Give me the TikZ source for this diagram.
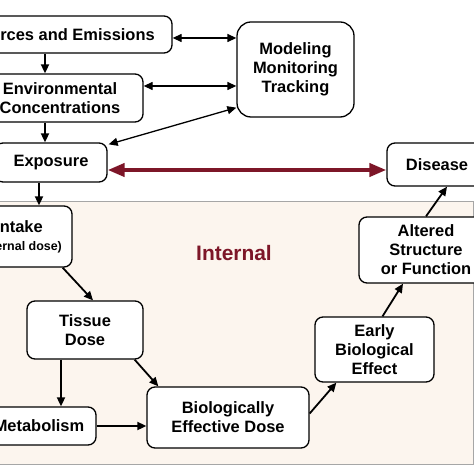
\documentclass[tikz,border=0pt]{standalone}
\usepackage{fontspec}
\setmainfont{Liberation Sans}
\usetikzlibrary{arrows.meta}
\definecolor{wine}{RGB}{125,22,40}
\definecolor{shell}{RGB}{252,245,238}
\begin{document}
\begin{tikzpicture}[x=1bp,y=-1bp,
                    box/.style={draw,fill=white,rounded corners=8bp,line width=1.3bp,align=center,inner sep=0pt,
                        font=\fontsize{16.5}{19}\selectfont\bfseries},
                    arr/.style={-{Triangle[length=9bp,width=8bp]},line width=1.8bp},
                    dbl/.style={{Triangle[length=9bp,width=8bp]}-{Triangle[length=9bp,width=8bp]},line width=1.3bp}]
                    \useasboundingbox (0,0) rectangle (474,474);
                    \clip (0,0) rectangle (474,474);
                    \fill[white] (0,0) rectangle (474,474);
                    \draw[fill=shell,draw=gray!70,line width=1bp] (-10,202) rectangle (473,464);
                    \node[text=wine,font=\fontsize{21}{24}\selectfont\bfseries] (internal) at (234,253) {Internal};
                    \node[box,minimum width=220bp,minimum height=37bp] (src) at (62,34.5) {Sources and Emissions};
                    \node[box,minimum width=166bp,minimum height=48bp] (env) at (60,98) {Environmental\\Concentrations};
                    \node[box,minimum width=112bp,minimum height=39bp] (expo) at (51,162.5) {Exposure};
                    \node[box,rounded corners=14bp,minimum width=117bp,minimum height=95bp] (model) at (295.5,69.5) {Modeling\\Monitoring\\Tracking};
                    \node[box,minimum width=100bp,minimum height=43bp] (disease) at (437,164.5) {Disease};
                    \node[box,minimum width=106bp,minimum height=61bp] (intake) at (19,236.5) {Intake\\[-1bp]{\fontsize{12.5}{14}\selectfont(internal dose)}};
                    \node[box,minimum width=116bp,minimum height=58bp] (tissue) at (85,330) {Tissue\\Dose};
                    \node[box,minimum width=114bp,minimum height=38bp] (metab) at (39,426) {Metabolism};
                    \node[box,minimum width=162bp,minimum height=61bp] (bed) at (228,417.5) {Biologically\\Effective Dose};
                    \node[box,minimum width=119bp,minimum height=65bp] (early) at (374.5,349.5) {Early\\Biological\\Effect};
                    \node[box,minimum width=134bp,minimum height=66bp] (altered) at (426,250) {Altered\\Structure\\or Function};
                    \coordinate (spine) at (45,0);
                    \coordinate (drop) at (39,0);
                    \coordinate (fork) at (61,0);
                    \draw[arr] (src.south -| spine) -- (env.north -| spine);
                    \draw[arr] (env.south -| spine) -- (expo.north -| spine);
                    \draw[arr] (expo.south -| drop) -- (intake.north -| drop);
                    \draw[dbl] ([yshift=-3.5bp]src.east) -- ([yshift=-3.5bp]src.east -| model.west);
                    \draw[dbl] ([yshift=12bp]env.east) -- ([yshift=12bp]env.east -| model.west);
                    \draw[dbl] ([xshift=1bp,yshift=-2bp]expo.north east) -- ([yshift=10bp]model.south west);
                    \draw[{Triangle[length=17bp,width=13bp]}-{Triangle[length=17bp,width=13bp]},wine,line width=4bp]
                        ([yshift=-7.5bp]expo.east) -- ([yshift=-7.5bp]expo.east -| disease.west);
                    \draw[arr] ([xshift=-10bp]intake.south east) -- ([xshift=8bp]tissue.north);
                    \draw[arr] (tissue.south -| fork) -- (metab.north -| fork);
                    \draw[arr] ([xshift=-9bp]tissue.south east) -- ([xshift=12bp]bed.north west);
                    \draw[arr] (metab.east) -- (metab.east -| bed.west);
                    \draw[arr] ([yshift=4bp]bed.east) -- ([xshift=22bp]early.south west);
                    \draw[arr] ([xshift=8bp]early.north) -- ([xshift=-23bp]altered.south);
                    \draw[arr] (altered.north) -- ([xshift=10bp]disease.south);
\end{tikzpicture}
\end{document}
